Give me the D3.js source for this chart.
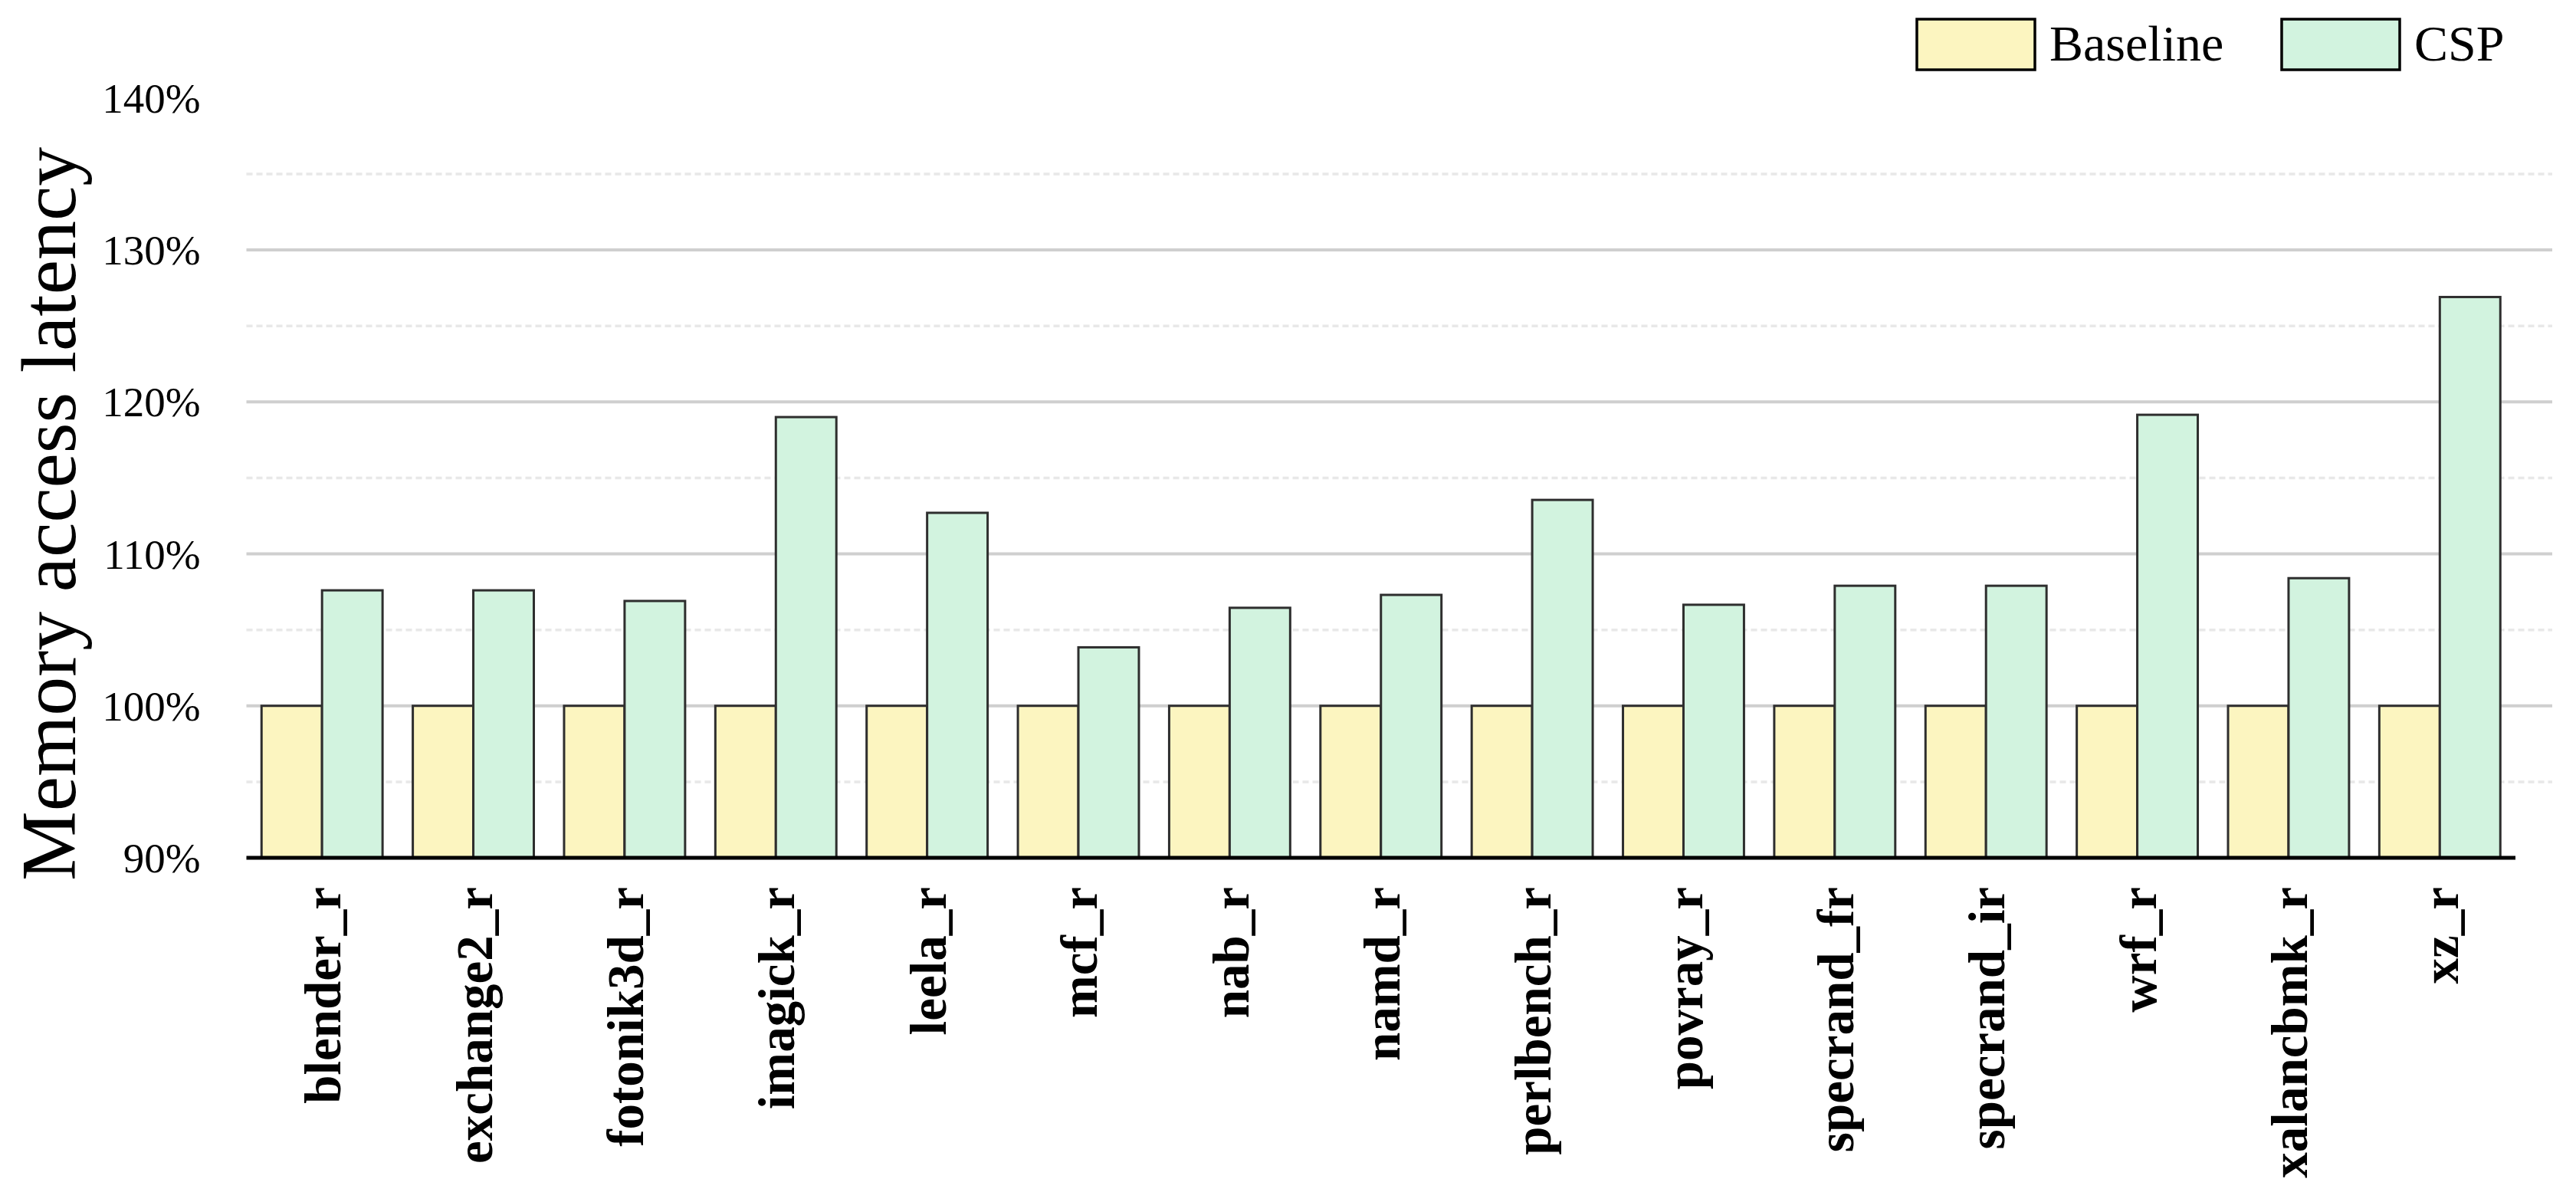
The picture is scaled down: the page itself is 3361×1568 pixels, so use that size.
<!DOCTYPE html>
<html>
<head>
<meta charset="utf-8">
<script src="https://cdn.jsdelivr.net/npm/d3@7"></script>
<style>
  html, body { margin: 0; padding: 0; background: #ffffff; }
  svg { display: block; }
</style>
</head>
<body>
<div id="chart"></div>
<script>
// Chart data
const benchmarks = ["blender_r", "exchange2_r", "fotonik3d_r", "imagick_r", "leela_r",
  "mcf_r", "nab_r", "namd_r", "perlbench_r", "povray_r", "specrand_fr",
  "specrand_ir", "wrf_r", "xalancbmk_r", "xz_r"];
const seriesNames = ["Baseline", "CSP"];
const baselineValues = [100, 100, 100, 100, 100, 100, 100, 100, 100, 100, 100, 100, 100, 100, 100];
const cspValues = [107.6, 107.6, 106.9, 119.0, 112.7, 103.85, 106.45, 107.3, 113.55, 106.65,
  107.9, 107.9, 119.15, 108.4, 126.9];
const yTicks = [90, 100, 110, 120, 130, 140];
const yMinorTicks = [95, 105, 115, 125, 135];

// Container dimensions
const w = 3361;
const h = 1568;
const plotLeft = 321.5;
const plotRight = 3282;
const gridRight = 3330;
const plotTop = 127.75;
const plotBottom = 1119;

// Colors
const yellow = "#fcf5c0";
const green = "#d2f3df";
const barStroke = "#2e2e2e";
const fontFamily = "'Liberation Serif', 'Times New Roman', Times, serif";

const colors = { "Baseline": yellow, "CSP": green };

// Build rows from arrays
const rows = benchmarks.map((b, i) => ({
  name: b,
  values: [
    { key: "Baseline", value: baselineValues[i] },
    { key: "CSP", value: cspValues[i] }
  ]
}));

// Scales
const x0 = d3.scaleBand()
             .domain(benchmarks)
             .range([plotLeft, plotRight])
             .paddingInner(0.2)
             .paddingOuter(0.1);

const x1 = d3.scaleBand()
             .domain(seriesNames)
             .range([0, x0.bandwidth()]);

const yScale = d3.scaleLinear()
                 .domain([90, 140])
                 .range([plotBottom, plotTop]);

// Create SVG
const svg = d3.select("#chart")
              .append("svg")
              .attr("width", w)
              .attr("height", h);

// Gridlines: solid at 10%, dotted at 5%
svg.append("g")
   .selectAll("line")
   .data(yTicks.filter(d => d > 90 && d < 140))
   .enter()
   .append("line")
   .attr("x1", plotLeft)
   .attr("x2", gridRight)
   .attr("y1", d => yScale(d))
   .attr("y2", d => yScale(d))
   .attr("stroke", "#cfcfcf")
   .attr("stroke-width", 4);

svg.append("g")
   .selectAll("line")
   .data(yMinorTicks)
   .enter()
   .append("line")
   .attr("x1", plotLeft)
   .attr("x2", gridRight)
   .attr("y1", d => yScale(d))
   .attr("y2", d => yScale(d))
   .attr("stroke", "#e8e8e8")
   .attr("stroke-width", 3.5)
   .attr("stroke-dasharray", "8,5");

// Bars
const groups = svg.append("g")
                  .selectAll("g")
                  .data(rows)
                  .enter()
                  .append("g")
                  .attr("transform", d => "translate(" + x0(d.name) + ",0)");

groups.selectAll("rect")
      .data(d => d.values)
      .enter()
      .append("rect")
      .attr("x", d => x1(d.key))
      .attr("y", d => yScale(d.value))
      .attr("width", x1.bandwidth())
      .attr("height", d => yScale(90) - yScale(d.value))
      .attr("fill", d => colors[d.key])
      .attr("stroke", barStroke)
      .attr("stroke-width", 3);

// Y axis labels
const yAxis = d3.axisLeft(yScale)
                .tickValues(yTicks)
                .tickSize(0)
                .tickPadding(60)
                .tickFormat(d => d + "%");

svg.append("g")
   .attr("transform", "translate(" + plotLeft + ",0)")
   .call(yAxis)
   .call(g => g.select(".domain").remove())
   .selectAll("text")
   .style("font-family", fontFamily)
   .style("font-size", "55px")
   .attr("fill", "#000")
   .attr("dy", "0.34em");

// X axis labels
const xAxis = d3.axisBottom(x0)
                .tickSize(0);

svg.append("g")
   .attr("transform", "translate(0," + plotBottom + ")")
   .call(xAxis)
   .call(g => g.select(".domain").remove())
   .selectAll("text")
   .style("font-family", fontFamily)
   .style("font-size", "67px")
   .style("font-weight", "bold")
   .attr("fill", "#000")
   .attr("text-anchor", "end")
   .attr("y", 0)
   .attr("dy", "0.36em")
   .attr("transform", "translate(0,38) rotate(-90)");

// Base axis line
svg.append("line")
   .attr("x1", plotLeft)
   .attr("x2", plotRight)
   .attr("y1", plotBottom)
   .attr("y2", plotBottom)
   .attr("stroke", "#000")
   .attr("stroke-width", 5);

// Y axis title
svg.append("text")
   .attr("transform", "translate(98," + ((plotTop + plotBottom) / 2 + 47) + ") rotate(-90)")
   .attr("text-anchor", "middle")
   .style("font-family", fontFamily)
   .style("font-size", "102px")
   .attr("fill", "#000")
   .text("Memory access latency");

// Legend
const legendX = [2501, 2977];
const legend = svg.append("g")
                  .selectAll("g")
                  .data(seriesNames)
                  .enter()
                  .append("g")
                  .attr("transform", (d, i) => "translate(" + legendX[i] + ",25)");

legend.append("rect")
      .attr("width", 154)
      .attr("height", 66)
      .attr("fill", d => colors[d])
      .attr("stroke", "#000")
      .attr("stroke-width", 3.5);

legend.append("text")
      .attr("x", 173)
      .attr("y", 54)
      .style("font-family", fontFamily)
      .style("font-size", "66px")
      .attr("fill", "#000")
      .text(d => d);
</script>
</body>
</html>
